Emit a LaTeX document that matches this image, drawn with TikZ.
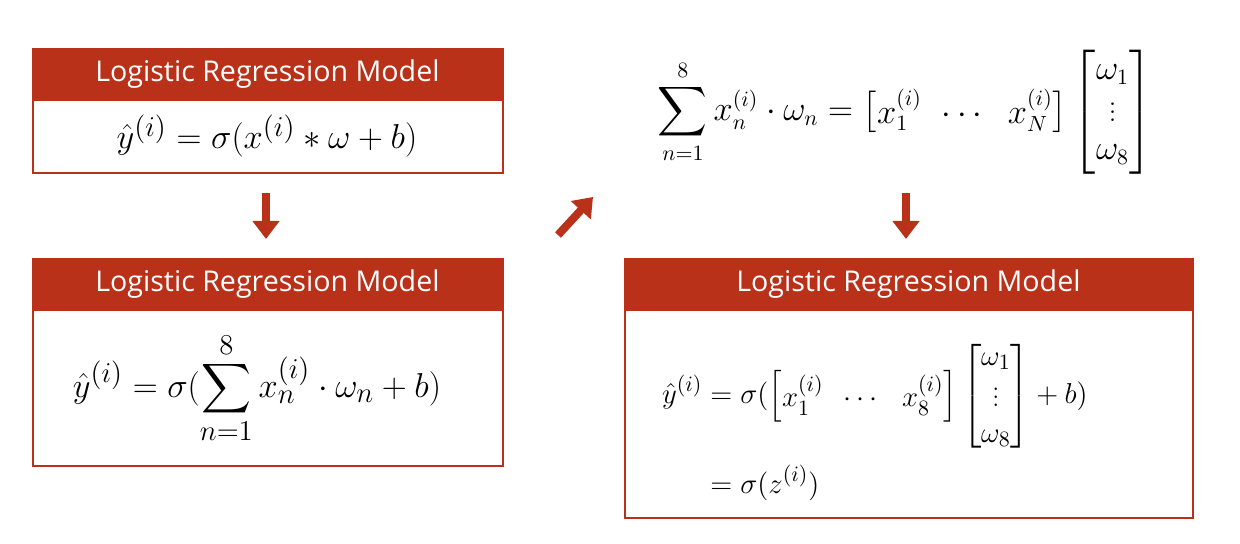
\documentclass[tikz,border=0pt]{standalone}
\usepackage{amsmath}
\usepackage{fontspec}
\newfontfamily\hdfont{Open Sans}
\usetikzlibrary{arrows.meta}
\definecolor{pred}{HTML}{B83118}
\tikzset{
 hdr/.style={fill=pred,draw=pred,text=white,font=\hdfont\fontsize{14.3}{16}\selectfont,inner sep=0pt,anchor=north west},
 bodybox/.style={draw=pred,line width=1.2pt,fill=white,anchor=north west,inner sep=0pt},
 fat/.style={pred,line width=4pt,-{Triangle[length=9pt,width=13pt]}}
}
\begin{document}
\begin{tikzpicture}[x=0.5pt,y=-0.5pt]
\useasboundingbox (0,0) rectangle (1240,544);
% box 1
\node[bodybox,minimum width=470*0.5pt,minimum height=124*0.5pt] (b1) at (32,48) {};
\node[hdr,minimum width=470*0.5pt,minimum height=52*0.5pt] (h1) at (32,48) {Logistic Regression Model};
\node[font=\fontsize{19}{22}\selectfont] (f1) at (267,136) {$\hat{y}^{(i)}=\sigma(x^{(i)}*\omega+b)$};
% box 2
\node[bodybox,minimum width=470*0.5pt,minimum height=207*0.5pt] (b2) at (32,258) {};
\node[hdr,minimum width=470*0.5pt,minimum height=52*0.5pt] (h2) at (32,258) {Logistic Regression Model};
\node[font=\fontsize{19}{22}\selectfont] (f2) at (257,388) {$\displaystyle\hat{y}^{(i)}=\sigma(\sum_{n=1}^{8}x_n^{(i)}\cdot\omega_n+b)$};
% box 3
\node[bodybox,minimum width=568*0.5pt,minimum height=259*0.5pt] (b3) at (624,258) {};
\node[hdr,minimum width=568*0.5pt,minimum height=52*0.5pt] (h3) at (624,258) {Logistic Regression Model};
\node[font=\fontsize{15}{18}\selectfont,anchor=west] (f3) at (655,422) {$\begin{aligned}\hat{y}^{(i)}&=\sigma(\begin{bmatrix}x_1^{(i)}&\cdots&x_8^{(i)}\end{bmatrix}\begin{bmatrix}\omega_1\\ \vdots\\ \omega_8\end{bmatrix}+b)\\[2pt] &=\sigma(z^{(i)})\end{aligned}$};
% top right formula
\node[font=\fontsize{16}{19}\selectfont] (f4) at (905,112) {$\displaystyle\sum_{n=1}^{8}x_n^{(i)}\cdot\omega_n=\begin{bmatrix}x_1^{(i)}&\cdots&x_N^{(i)}\end{bmatrix}\begin{bmatrix}\omega_1\\ \vdots\\ \omega_8\end{bmatrix}$};
% arrows
\coordinate (a1s) at (266,193); \coordinate (a1e) at (266,239);
\coordinate (a2s) at (906,193); \coordinate (a2e) at (906,239);
\coordinate (a3s) at (558,235); \coordinate (a3e) at (593,197);
\draw[fat] (a1s) -- (a1e);
\draw[fat] (a2s) -- (a2e);
\draw[fat] (a3s) -- (a3e);
\end{tikzpicture}
\end{document}
